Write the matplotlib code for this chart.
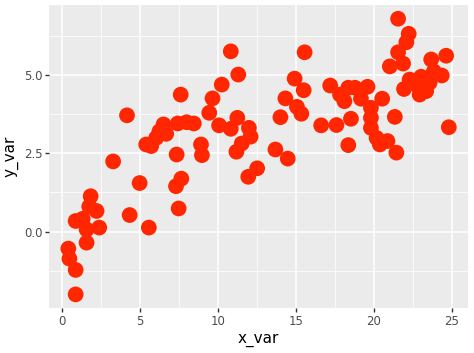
import matplotlib
matplotlib.use("Agg")
import matplotlib.pyplot as plt
import numpy as np

x_var = [0.42, 0.49, 0.89, 0.89, 0.89, 1.34, 1.59, 1.59, 1.76, 1.85, 2.23, 2.40,
         3.29, 4.18, 4.35, 4.99, 5.58, 5.41, 5.73, 6.05, 6.26, 6.52, 6.69, 7.43,
         7.62, 7.36, 7.66, 7.32, 7.49, 8.0, 8.46, 8.92, 8.98, 9.45, 9.66, 10.25,
         10.08, 10.83, 11.31, 10.83, 11.25, 11.19, 11.53, 11.99, 12.10, 11.95, 12.52,
         13.69, 14.48, 14.01, 14.33, 14.92, 15.07, 15.35, 15.50, 15.56, 16.62, 17.2,
         17.6, 17.83, 18.11, 18.36, 18.79, 18.53, 18.36, 19.17, 19.59, 19.81, 19.81,
         19.81, 20.17, 20.38, 20.87, 20.53, 21.34, 21.44, 21.02, 21.55, 21.87, 21.55,
         22.23, 22.08, 21.93, 22.29, 22.61, 22.93, 23.03, 23.35, 23.57, 22.82, 23.67,
         23.84, 24.35, 24.63, 24.80]
y_var = [-0.54, -0.86, -1.22, -2.0, 0.34, 0.41, 0.07, -0.35, 0.80, 1.13, 0.66, 0.13,
         2.24, 3.71, 0.53, 1.55, 0.13, 2.78, 2.73, 2.99, 3.20, 3.42, 3.12, 3.45,
         4.37, 2.46, 1.69, 1.45, 0.74, 3.49, 3.45, 2.78, 2.44, 3.79, 4.25, 4.69,
         3.39, 5.75, 5.01, 3.28, 3.63, 2.55, 2.81, 3.31, 3.03, 1.75, 2.02,
         2.62, 2.33, 3.65, 4.25, 4.88, 3.98, 3.76, 4.51, 5.72, 3.39, 4.66,
         3.40, 4.37, 4.16, 4.59, 4.59, 3.60, 2.76, 4.24, 4.62, 3.95, 3.63,
         3.31, 2.99, 2.78, 2.89, 4.24, 3.66, 2.52, 5.27, 5.72, 5.36, 6.79,
         6.31, 6.04, 4.55, 4.85, 4.80, 4.37, 4.94, 4.48, 4.75, 4.64, 5.49,
         5.11, 4.98, 5.61, 3.33]

x_ticks = [0, 5, 10, 15, 20, 25]
y_ticks = [0.0, 2.5, 5.0]

fig = plt.figure(figsize=(4.74, 3.53), dpi=100)
ax = fig.add_axes([0.104, 0.127, 0.883, 0.859])
ax.set_facecolor('#EBEBEB')
for s in ax.spines.values():
    s.set_visible(False)

xmin, xmax = min(x_var), max(x_var)
ymin, ymax = min(y_var), max(y_var)
dx, dy = xmax - xmin, ymax - ymin
ax.set_xlim(xmin - 0.05 * dx, xmax + 0.05 * dx)
ax.set_ylim(ymin - 0.05 * dy, ymax + 0.05 * dy)

ax.set_xticks(x_ticks)
ax.set_yticks(y_ticks)
ax.set_yticklabels([f"{v:.1f}" for v in y_ticks])
ax.set_xticks([2.5, 7.5, 12.5, 17.5, 22.5], minor=True)
ax.set_yticks([-1.25, 1.25, 3.75, 6.25], minor=True)
ax.grid(True, which='major', color='white', linewidth=1.1)
ax.grid(True, which='minor', color='white', linewidth=0.55)
ax.set_axisbelow(True)
ax.tick_params(which='major', length=3, width=1.0, color='#333333',
               labelsize=8.5, labelcolor='#4D4D4D', pad=2)
ax.tick_params(which='minor', length=0)

ax.scatter(x_var, y_var, s=128, color='#FF2600', edgecolors='none', zorder=3)

ax.set_xlabel('x_var', fontsize=11, color='black', labelpad=3)
ax.set_ylabel('y_var', fontsize=11, color='black', labelpad=4)

fig.savefig('out.png', dpi=100)
